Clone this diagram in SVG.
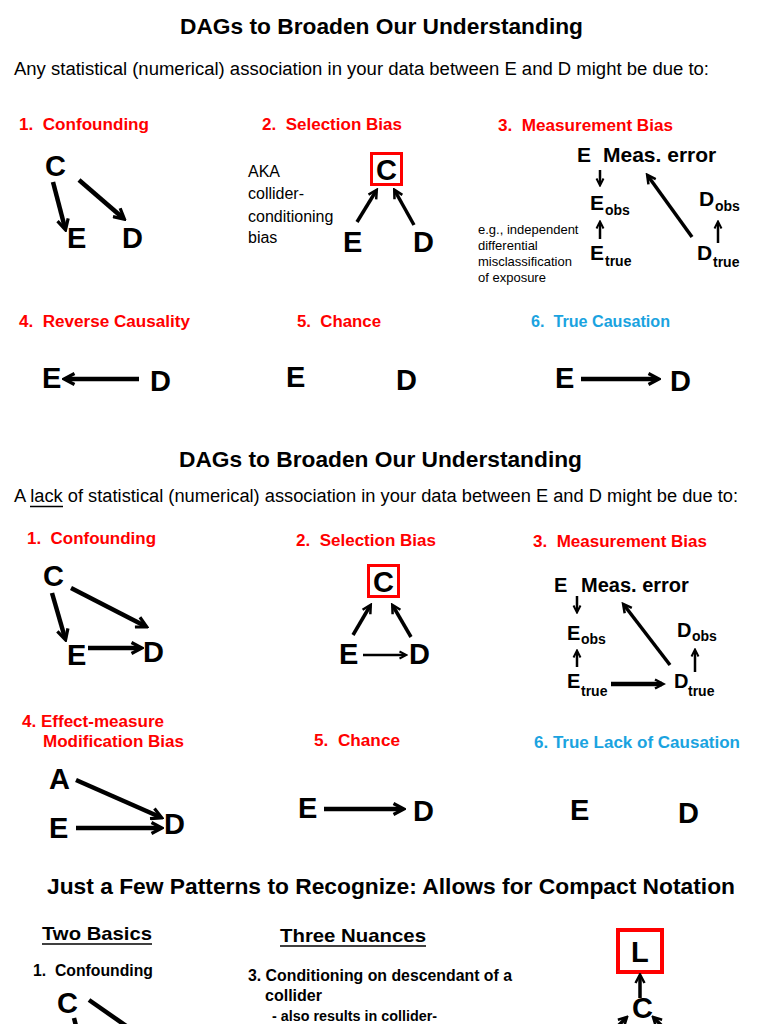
<svg xmlns="http://www.w3.org/2000/svg" width="768" height="1024" viewBox="0 0 768 1024" xml:space="preserve">
<style>
text{font-family:"Liberation Sans",Arial,sans-serif;fill:#000;white-space:pre}
.nar{font-family:"Liberation Sans Narrow","Liberation Sans",Arial,sans-serif}
.title{font-weight:bold;font-size:22px}
.sub1{font-size:18px}
.h{font-weight:bold;font-size:16.8px;fill:#f00}
.hb{font-weight:bold;font-size:16px;fill:#1aa3e0}
.hn{font-weight:bold;font-size:16px;fill:#f00}
.node{font-weight:bold;font-size:29px}
.lbl{font-weight:bold;font-size:21px}
.lbl2{font-weight:bold;font-size:20px}
.sb{font-weight:bold;font-size:14px}
.aka{font-size:16px}
.eg{font-size:13px}
.k{font-weight:bold}
.c line{stroke:#000;fill:none}
.w45{stroke-width:4.5}
.w35{stroke-width:3.5}
.w25{stroke-width:2.5}
.box{fill:none;stroke:#f00;stroke-width:3}
</style>
<defs>
<marker id="aL" viewBox="0 0 14 14" refX="10" refY="7" markerWidth="14" markerHeight="14" markerUnits="userSpaceOnUse" orient="auto">
<path d="M1.5,1.5 L12,7 L1.5,12.5" fill="none" stroke="#000" stroke-width="3.2"/>
</marker>
<marker id="aM" viewBox="0 0 12 12" refX="8.5" refY="6" markerWidth="12" markerHeight="12" markerUnits="userSpaceOnUse" orient="auto">
<path d="M1.5,1.5 L10,6 L1.5,10.5" fill="none" stroke="#000" stroke-width="2.5"/>
</marker>
<marker id="aS" viewBox="0 0 10 10" refX="7" refY="5" markerWidth="10" markerHeight="10" markerUnits="userSpaceOnUse" orient="auto">
<path d="M1.5,1.5 L8.5,5 L1.5,8.5" fill="none" stroke="#000" stroke-width="2"/>
</marker>
</defs>
<rect width="768" height="1024" fill="#fff"/>
<g id="sec1-header">
<text class="title nar" x="180" y="34" textLength="403" lengthAdjust="spacingAndGlyphs">DAGs to Broaden Our Understanding</text>
<text class="sub1 nar" x="14" y="75" textLength="695" lengthAdjust="spacingAndGlyphs">Any statistical (numerical) association in your data between E and D might be due to:</text>
<text class="h" x="19" y="130" textLength="130" lengthAdjust="spacingAndGlyphs">1.  Confounding</text>
<text class="h" x="262" y="130" textLength="140" lengthAdjust="spacingAndGlyphs">2.  Selection Bias</text>
<text class="h" x="498" y="131" textLength="175" lengthAdjust="spacingAndGlyphs">3.  Measurement Bias</text>
<text class="hn nar" x="19" y="327" textLength="171" lengthAdjust="spacingAndGlyphs">4.  Reverse Causality</text>
<text class="hn nar" x="297" y="327" textLength="84" lengthAdjust="spacingAndGlyphs">5.  Chance</text>
<text class="hb nar" x="531" y="327" textLength="139" lengthAdjust="spacingAndGlyphs">6.  True Causation</text>
</g>
<g id="s1-conf-C"><text class="node" x="45" y="176">C</text></g>
<g id="s1-conf-E"><text class="node" x="67" y="248">E</text></g>
<g id="s1-conf-D"><text class="node" x="122" y="248">D</text></g>
<g id="s1-aka">
<text class="aka" x="248" y="177">AKA</text>
<text class="aka" x="248" y="199">collider-</text>
<text class="aka" x="248" y="222">conditioning</text>
<text class="aka" x="248" y="243">bias</text>
</g>
<g id="s1-sel-C"><rect class="box" x="371.5" y="153.5" width="30" height="31"/><text class="node" x="386.5" y="180" text-anchor="middle" font-size="27">C</text></g>
<g id="s1-sel-E"><text class="node" x="343" y="252">E</text></g>
<g id="s1-sel-D"><text class="node" x="413" y="252">D</text></g>
<g id="s1-mb-E"><text class="lbl" x="577" y="162">E</text></g>
<g id="s1-mb-err"><text class="lbl" x="603" y="162">Meas. error</text></g>
<g id="s1-mb-Eobs"><text class="lbl" x="590" y="210">E</text><text class="sb" x="605" y="215">obs</text></g>
<g id="s1-mb-Etrue"><text class="lbl" x="590" y="260">E</text><text class="sb" x="605" y="266">true</text></g>
<g id="s1-mb-Dobs"><text class="lbl" x="699" y="206">D</text><text class="sb" x="715" y="211">obs</text></g>
<g id="s1-mb-Dtrue"><text class="lbl" x="697" y="260">D</text><text class="sb" x="713" y="267">true</text></g>
<g id="s1-mb-note">
<text class="eg" x="478" y="234">e.g., independent</text>
<text class="eg" x="478" y="250">differential</text>
<text class="eg" x="478" y="266">misclassification</text>
<text class="eg" x="478" y="282">of exposure</text>
</g>
<g id="s1-rev-E"><text class="node" x="42" y="388" font-size="28">E</text></g>
<g id="s1-rev-D"><text class="node" x="150" y="391" font-size="28">D</text></g>
<g id="s1-ch-E"><text class="node" x="286" y="387" font-size="28">E</text></g>
<g id="s1-ch-D"><text class="node" x="396" y="390" font-size="28">D</text></g>
<g id="s1-tc-E"><text class="node" x="555" y="388" font-size="28">E</text></g>
<g id="s1-tc-D"><text class="node" x="670" y="391" font-size="28">D</text></g>
<g id="sec2-header">
<text class="title nar" x="179" y="467" textLength="403" lengthAdjust="spacingAndGlyphs">DAGs to Broaden Our Understanding</text>
<text class="sub1 nar" x="14" y="502" textLength="724" lengthAdjust="spacingAndGlyphs">A lack of statistical (numerical) association in your data between E and D might be due to:</text>
<line x1="30" y1="506.5" x2="63" y2="506.5" stroke="#000" stroke-width="1.3"/>
<text class="h" x="27" y="544" textLength="129" lengthAdjust="spacingAndGlyphs">1.  Confounding</text>
<text class="h" x="296" y="546" textLength="140" lengthAdjust="spacingAndGlyphs">2.  Selection Bias</text>
<text class="h" x="533" y="547" textLength="174" lengthAdjust="spacingAndGlyphs">3.  Measurement Bias</text>
<text class="hn nar" x="22" y="727" textLength="142" lengthAdjust="spacingAndGlyphs">4. Effect-measure</text>
<text class="hn nar" x="43" y="747" textLength="141" lengthAdjust="spacingAndGlyphs">Modification Bias</text>
<text class="hn nar" x="314" y="746" textLength="86" lengthAdjust="spacingAndGlyphs">5.  Chance</text>
<text class="hb nar" x="534" y="748" textLength="206" lengthAdjust="spacingAndGlyphs">6. True Lack of Causation</text>
</g>
<g id="s2-conf-C"><text class="node" x="43" y="586">C</text></g>
<g id="s2-conf-E"><text class="node" x="67" y="665">E</text></g>
<g id="s2-conf-D"><text class="node" x="143" y="662">D</text></g>
<g id="s2-sel-C"><rect class="box" x="368.5" y="565.5" width="30" height="31"/><text class="node" x="383.5" y="592" text-anchor="middle" font-size="27">C</text></g>
<g id="s2-sel-E"><text class="node" x="339" y="664">E</text></g>
<g id="s2-sel-D"><text class="node" x="409" y="664">D</text></g>
<g id="s2-mb-E"><text class="lbl2" x="554" y="592">E</text></g>
<g id="s2-mb-err"><text class="lbl2" x="581" y="592">Meas. error</text></g>
<g id="s2-mb-Eobs"><text class="lbl2" x="567" y="640">E</text><text class="sb" x="581" y="644">obs</text></g>
<g id="s2-mb-Etrue"><text class="lbl2" x="567" y="688">E</text><text class="sb" x="581" y="696">true</text></g>
<g id="s2-mb-Dobs"><text class="lbl2" x="677" y="637">D</text><text class="sb" x="692" y="641">obs</text></g>
<g id="s2-mb-Dtrue"><text class="lbl2" x="674" y="688">D</text><text class="sb" x="688" y="696">true</text></g>
<g id="s2-em-A"><text class="node" x="49" y="789" font-size="28">A</text></g>
<g id="s2-em-E"><text class="node" x="49" y="838" font-size="28">E</text></g>
<g id="s2-em-D"><text class="node" x="164" y="834" font-size="28">D</text></g>
<g id="s2-ch-E"><text class="node" x="298" y="818" font-size="28">E</text></g>
<g id="s2-ch-D"><text class="node" x="413" y="821" font-size="28">D</text></g>
<g id="s2-tl-E"><text class="node" x="570" y="820" font-size="28">E</text></g>
<g id="s2-tl-D"><text class="node" x="678" y="823" font-size="28">D</text></g>
<g id="sec3-header">
<text class="title nar" x="47" y="894" textLength="688" lengthAdjust="spacingAndGlyphs">Just a Few Patterns to Recognize: Allows for Compact Notation</text>
<text class="nar k" x="42" y="940" font-size="19" textLength="110" lengthAdjust="spacingAndGlyphs">Two Basics</text>
<line x1="42" y1="944" x2="152" y2="944" stroke="#000" stroke-width="1.5"/>
<text class="nar k" x="280" y="942" font-size="19" textLength="146" lengthAdjust="spacingAndGlyphs">Three Nuances</text>
<line x1="280" y1="946" x2="426" y2="946" stroke="#000" stroke-width="1.5"/>
<text class="nar k" x="33" y="976" font-size="16" textLength="120" lengthAdjust="spacingAndGlyphs">1.  Confounding</text>
<text class="nar k" x="248" y="981" font-size="16" textLength="264" lengthAdjust="spacingAndGlyphs">3. Conditioning on descendant of a</text>
<text class="nar k" x="265" y="1001" font-size="16" textLength="57" lengthAdjust="spacingAndGlyphs">collider</text>
<text class="nar k" x="272" y="1021" font-size="14" textLength="165" lengthAdjust="spacingAndGlyphs">- also results in collider-</text>
</g>
<g id="s3-conf-C"><text class="node" x="57" y="1013" font-size="28">C</text></g>
<g id="s3-L"><rect x="618" y="930" width="44" height="42" fill="none" stroke="#f00" stroke-width="4"/><text class="node" x="631" y="962" font-size="28">L</text></g>
<g id="s3-C"><text class="node" x="632" y="1018" font-size="23">C</text></g>
<g id="connectors" class="c">
<line class="w45" x1="53" y1="182" x2="65" y2="228" marker-end="url(#aL)"/>
<line class="w45" x1="79" y1="180" x2="123" y2="218" marker-end="url(#aL)"/>
<line class="w35" x1="357" y1="222" x2="376" y2="191" marker-end="url(#aM)"/>
<line class="w35" x1="414" y1="225" x2="395" y2="191" marker-end="url(#aM)"/>
<line class="w25" x1="600" y1="170" x2="600" y2="184" marker-end="url(#aS)"/>
<line class="w25" x1="600" y1="239" x2="600" y2="223" marker-end="url(#aS)"/>
<line class="w25" x1="718" y1="243" x2="718" y2="223" marker-end="url(#aS)"/>
<line class="w35" x1="692" y1="237" x2="648" y2="176" marker-end="url(#aM)"/>
<line class="w45" x1="139" y1="379" x2="66" y2="379" marker-end="url(#aL)"/>
<line class="w45" x1="581" y1="379" x2="657" y2="379" marker-end="url(#aL)"/>
<line class="w45" x1="52" y1="593" x2="65" y2="638" marker-end="url(#aL)"/>
<line class="w45" x1="71" y1="588" x2="145" y2="626" marker-end="url(#aL)"/>
<line class="w45" x1="88" y1="648" x2="140" y2="648" marker-end="url(#aL)"/>
<line class="w35" x1="353" y1="635" x2="370" y2="606" marker-end="url(#aM)"/>
<line class="w35" x1="411" y1="637" x2="393" y2="606" marker-end="url(#aM)"/>
<line class="w25" x1="363" y1="655" x2="405" y2="655" marker-end="url(#aS)"/>
<line class="w25" x1="577" y1="596" x2="577" y2="611" marker-end="url(#aS)"/>
<line class="w25" x1="577" y1="667" x2="577" y2="652" marker-end="url(#aS)"/>
<line class="w45" x1="611" y1="684" x2="662" y2="684" marker-end="url(#aM)"/>
<line class="w25" x1="695" y1="672" x2="695" y2="651" marker-end="url(#aS)"/>
<line class="w35" x1="670" y1="665" x2="624" y2="605" marker-end="url(#aM)"/>
<line class="w45" x1="76" y1="780" x2="160" y2="817" marker-end="url(#aL)"/>
<line class="w45" x1="76" y1="828" x2="160" y2="828" marker-end="url(#aL)"/>
<line class="w45" x1="324" y1="809" x2="402" y2="809" marker-end="url(#aL)"/>
<line class="w45" x1="89" y1="1000" x2="132" y2="1030"/>
<line class="w45" x1="74" y1="1018" x2="77" y2="1030"/>
<line class="w35" x1="640" y1="998" x2="640" y2="976" marker-end="url(#aM)"/>
<line class="w35" x1="610" y1="1034" x2="626" y2="1018" marker-end="url(#aM)"/>
<line class="w35" x1="670" y1="1034" x2="654" y2="1018" marker-end="url(#aM)"/>
</g>
</svg>
